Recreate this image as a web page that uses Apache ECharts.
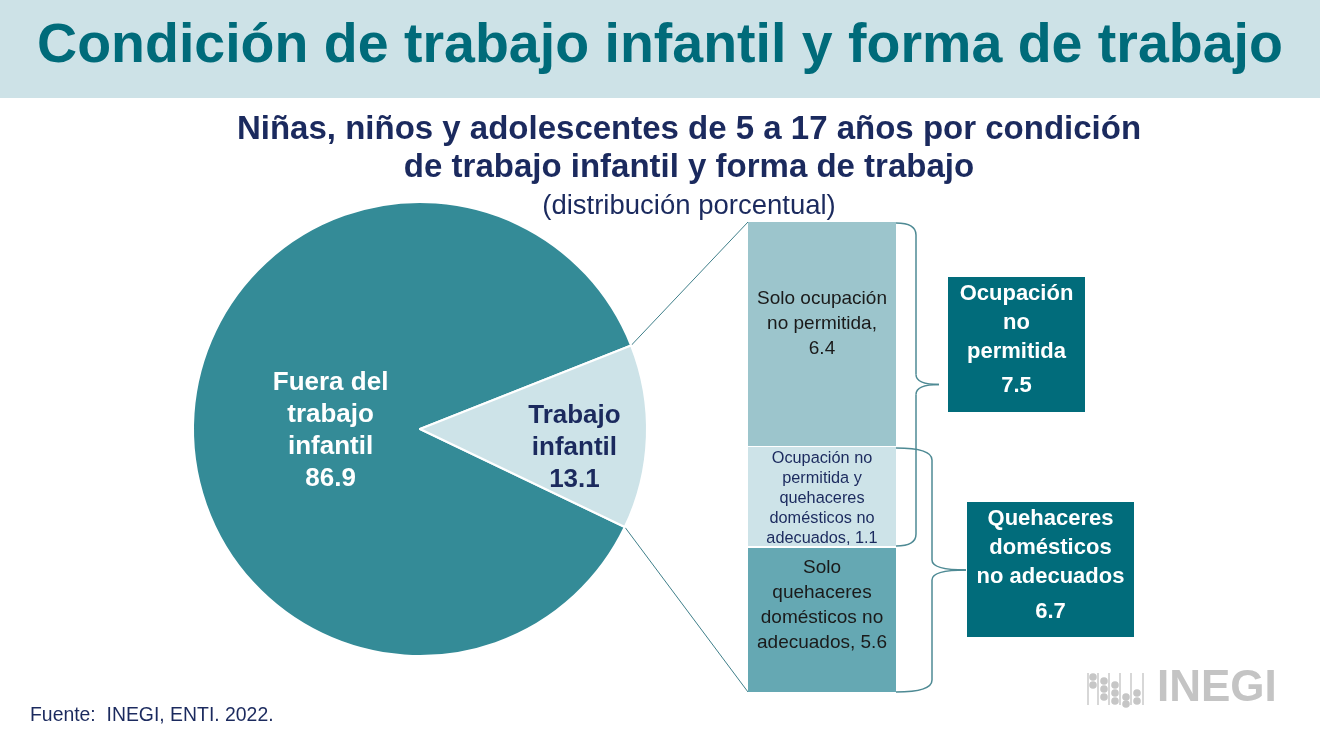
<!DOCTYPE html>
<html lang="es">
<head>
<meta charset="UTF-8">
<title>Condición de trabajo infantil y forma de trabajo</title>
<script src="https://cdn.jsdelivr.net/npm/echarts@6/dist/echarts.min.js"></script>
<style>
  html, body { margin: 0; padding: 0; background: #fff; }
  #main { width: 1320px; height: 742px; }
</style>
</head>
<body>
<div id="main"></div>
<script>
// datos
var pieNames = ['Fuera del\ntrabajo\ninfantil', 'Trabajo\ninfantil'];
var pieValues = [86.9, 13.1];

var formNames = ['Solo ocupación\nno permitida,', 'Ocupación no\npermitida y\nquehaceres\ndomésticos no\nadecuados,', 'Solo\nquehaceres\ndomésticos no\nadecuados,'];
var formValues = [6.4, 1.1, 5.6];

var groupNames = ['Ocupación\nno\npermitida', 'Quehaceres\ndomésticos\nno adecuados'];
var groupValues = [7.5, 6.7];

var font = 'Liberation Sans, Arial, sans-serif';
var navy = '#1B2A5E';
var teal = '#016C7B';

var myChart = echarts.init(document.getElementById('main'));

// pie geometry
var cx = 420, cy = 429, r = 227;
var tiltDeg = -2;
var halfDeg = pieValues[1] / (pieValues[0] + pieValues[1]) * 360 / 2;
var startAngle = tiltDeg - halfDeg + 360;
function corner(deg) {
  var a = deg * Math.PI / 180;
  return [cx + r * Math.cos(a), cy - r * Math.sin(a)];
}
var cTop = corner(tiltDeg + halfDeg);
var cBot = corner(tiltDeg - halfDeg);

// bar blocks (one grid per block)
var barLeft = 748, barWidth = 148;
var blocks = [
  { top: 222, height: 224, color: '#9CC5CC', text: '#1a1a1a', size: 19, lh: 25, off: -10 },
  { top: 447, height: 99, color: '#CDE3E8', text: navy, size: 16.3, lh: 20, off: 2 },
  { top: 548, height: 144, color: '#65A8B3', text: '#1a1a1a', size: 19, lh: 25, off: -15 }
];

var grids = [], xAxes = [], yAxes = [], series = [];
blocks.forEach(function (b, i) {
  grids.push({ left: barLeft, top: b.top, width: barWidth, height: b.height });
  xAxes.push({ type: 'category', gridIndex: i, data: ['Trabajo infantil'], show: false });
  yAxes.push({ type: 'value', gridIndex: i, min: 0, max: formValues[i], show: false });
  series.push({
    type: 'bar',
    xAxisIndex: i,
    yAxisIndex: i,
    barWidth: '100%',
    silent: true,
    itemStyle: { color: b.color },
    label: {
      show: true,
      position: 'inside',
      offset: [0, b.off],
      color: b.text,
      fontFamily: font,
      fontSize: b.size,
      lineHeight: b.lh,
      align: 'center',
      formatter: function (p) { return formNames[i] + ' ' + formValues[i]; }
    },
    data: [formValues[i]]
  });
});

// para el bloque superior el valor va en otra línea
series[0].label.formatter = function () { return formNames[0] + '\n' + formValues[0]; };

series.push({
  type: 'pie',
  center: [cx, cy],
  radius: [0, r],
  startAngle: startAngle,
  clockwise: true,
  silent: true,
  itemStyle: { borderColor: '#fff', borderWidth: 2 },
  label: {
    show: true,
    position: 'inside',
    fontFamily: font,
    fontWeight: 'bold',
    fontSize: 26,
    lineHeight: 32,
    formatter: function (p) { return p.name + '\n' + p.value; }
  },
  labelLine: { show: false },
  data: [
    { name: pieNames[0], value: pieValues[0], itemStyle: { color: '#348B97' },
      label: { color: '#fff', offset: [27, 6] } },
    { name: pieNames[1], value: pieValues[1], itemStyle: { color: '#CDE3E8' },
      label: { color: navy, offset: [38, 15] } }
  ]
});

// llave derecha hecha con curvas y líneas
function brace(x0, y0, y1, xv, xt) {
  var ym = (y0 + y1) / 2;
  var st = { stroke: '#4E8A94', lineWidth: 1.5, fill: null };
  function q(x1, y1, cpx, cpy, x2, y2) {
    return { type: 'bezierCurve', shape: { x1: x1, y1: y1, x2: x2, y2: y2, cpx1: cpx, cpy1: cpy }, style: st };
  }
  function l(x1, y1, x2, y2) {
    return { type: 'line', shape: { x1: x1, y1: y1, x2: x2, y2: y2 }, style: st };
  }
  return {
    type: 'group',
    children: [
      q(x0, y0, xv, y0, xv, y0 + 12),
      l(xv, y0 + 12, xv, ym - 10),
      q(xv, ym - 10, xv, ym, xt, ym),
      q(xt, ym, xv, ym, xv, ym + 10),
      l(xv, ym + 10, xv, y1 - 12),
      q(xv, y1 - 12, xv, y1, x0, y1)
    ]
  };
}

var boxes = [
  { x: 948, y: 277, w: 137, h: 135, dy: -5 },
  { x: 967, y: 502, w: 167, h: 135, dy: -4.5 }
];

var graphics = [
  { type: 'rect', shape: { x: 0, y: 0, width: 1320, height: 98 }, style: { fill: '#CDE2E7' }, silent: true },
  { type: 'text', x: 660, y: 47, style: { text: 'Condición de trabajo infantil y forma de trabajo',
      font: 'bold 55.5px ' + font, fill: '#006B7A', textAlign: 'center', textVerticalAlign: 'middle' } },
  { type: 'text', x: 689, y: 130, style: { text: 'Niñas, niños y adolescentes de 5 a 17 años por condición',
      font: 'bold 33px ' + font, fill: navy, textAlign: 'center', textVerticalAlign: 'middle' } },
  { type: 'text', x: 689, y: 168, style: { text: 'de trabajo infantil y forma de trabajo',
      font: 'bold 33px ' + font, fill: navy, textAlign: 'center', textVerticalAlign: 'middle' } },
  { type: 'text', x: 689, y: 206, style: { text: '(distribución porcentual)',
      font: '27.5px ' + font, fill: navy, textAlign: 'center', textVerticalAlign: 'middle' } },
  // líneas del pie a la barra
  { type: 'line', shape: { x1: cTop[0], y1: cTop[1], x2: barLeft, y2: 222 }, style: { stroke: '#3F7F8A', lineWidth: 1 } },
  { type: 'line', shape: { x1: cBot[0], y1: cBot[1], x2: barLeft, y2: 692 }, style: { stroke: '#3F7F8A', lineWidth: 1 } },
  brace(896, 223, 546, 916, 939),
  brace(896, 448, 692, 932, 966),
  { type: 'text', x: 30, y: 716, style: { text: 'Fuente:  INEGI, ENTI. 2022.',
      font: '19.4px ' + font, fill: navy, textVerticalAlign: 'middle' } }
];

boxes.forEach(function (b, i) {
  var lines = groupNames[i].split('\n').map(function (s) { return '{n|' + s + '}'; });
  lines.push('{v|' + groupValues[i].toFixed(1) + '}');
  graphics.push({ type: 'rect', shape: { x: b.x, y: b.y, width: b.w, height: b.h }, style: { fill: teal } });
  graphics.push({ type: 'text', x: b.x + b.w / 2, y: b.y + b.h / 2 + b.dy, style: {
    text: lines.join('\n'),
    fill: '#fff', textAlign: 'center', textVerticalAlign: 'middle',
    rich: {
      n: { fontFamily: font, fontWeight: 'bold', fontSize: 22, lineHeight: 29, fill: '#fff', align: 'center' },
      v: { fontFamily: font, fontWeight: 'bold', fontSize: 22, lineHeight: 34, padding: [6, 0, 0, 0], fill: '#fff', align: 'center' }
    } } });
});

// logotipo INEGI (aproximado)
var logoX = 1088, logoY = 673;
var cols = [0, 10, 21, 32, 43, 55];
cols.forEach(function (dx) {
  graphics.push({ type: 'line', shape: { x1: logoX + dx, y1: logoY, x2: logoX + dx, y2: logoY + 32 },
    style: { stroke: '#CACACA', lineWidth: 1.5 } });
});
var dots = [[5, 4], [5, 12], [16, 8], [16, 16], [16, 24], [27, 12], [27, 20], [27, 28], [38, 24], [38, 31], [49, 20], [49, 28]];
dots.forEach(function (d) {
  graphics.push({ type: 'circle', shape: { cx: logoX + d[0], cy: logoY + d[1], r: 3.8 }, style: { fill: '#C6C6C6' } });
});
graphics.push({ type: 'text', x: 1157, y: 689, style: { text: 'INEGI',
  font: 'bold 44px ' + font, fill: '#C4C4C4', textVerticalAlign: 'middle' } });

var option = {
  animation: false,
  backgroundColor: '#fff',
  grid: grids,
  xAxis: xAxes,
  yAxis: yAxes,
  series: series,
  graphic: graphics
};
myChart.setOption(option);
</script>
</body>
</html>
